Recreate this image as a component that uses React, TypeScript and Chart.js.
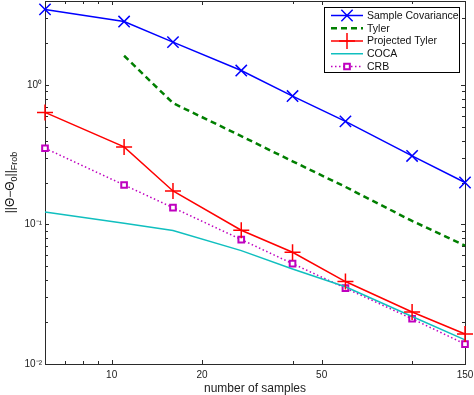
import React, { useEffect, useRef } from "react";
import { Chart, registerables } from "chart.js";

Chart.register(...registerables);

// ---- data ----
const samples = [6, 11, 16, 27, 40, 60, 100, 150];
const sampleCov = [3.48, 2.85, 2.03, 1.27, 0.833, 0.548, 0.31, 0.2];
const tyler = [null, 1.62, 0.742, 0.43, 0.284, 0.186, 0.106, 0.0706];
const projTyler = [0.636, 0.36, 0.174, 0.091, 0.0632, 0.039, 0.0236, 0.0164];
const coca = [0.123, 0.102, 0.0905, 0.065, 0.048, 0.0358, 0.0219, 0.0149];
const crb = [0.352, 0.192, 0.132, 0.078, 0.0524, 0.035, 0.0211, 0.0139];
const seriesNames = ["Sample Covariance", "Tyler", "Projected Tyler", "COCA", "CRB"];
const xTicks = [10, 20, 50, 150];
const xMinorTicks = [7, 8, 9, 40, 100];
const yTicks = [0.01, 0.1, 1];
const xLabel = "number of samples";

const FONT = "'Liberation Sans', Arial, Helvetica, sans-serif";
const AXIS_COLOR = "#2a2a2a";

const SUP: Record<string, string> = { "-": "\u207B", "0": "\u2070", "1": "\u00B9", "2": "\u00B2", "3": "\u00B3" };
const supText = (n: number) => String(n).split("").map((c) => SUP[c] || c).join("");

function drawMarker(ctx: CanvasRenderingContext2D, style: string, x: number, y: number, r: number, color: string, bw: number) {
  ctx.save();
  ctx.strokeStyle = color;
  ctx.lineWidth = bw;
  ctx.setLineDash([]);
  ctx.beginPath();
  if (style === "crossRot") {
    const d = r * Math.SQRT1_2;
    ctx.moveTo(x - d, y - d); ctx.lineTo(x + d, y + d);
    ctx.moveTo(x - d, y + d); ctx.lineTo(x + d, y - d);
    ctx.stroke();
  } else if (style === "cross") {
    ctx.moveTo(x - r, y); ctx.lineTo(x + r, y);
    ctx.moveTo(x, y - r); ctx.lineTo(x, y + r);
    ctx.stroke();
  } else if (style === "rect") {
    const s = r * Math.SQRT1_2;
    ctx.fillStyle = "#fff";
    ctx.rect(x - s, y - s, 2 * s, 2 * s);
    ctx.fill();
    ctx.stroke();
  }
  ctx.restore();
}

const axesPlugin = {
  id: "matlabAxes",
  beforeDatasetsDraw(chart: any) {
    const { ctx, chartArea: a, scales } = chart;
    const xs = scales.x, ys = scales.y;
    ctx.save();
    ctx.strokeStyle = AXIS_COLOR;
    ctx.lineWidth = 1;
    ctx.beginPath();
    const xt = (v: number, len: number) => {
      const px = Math.round(xs.getPixelForValue(v)) + 0.5;
      ctx.moveTo(px, a.bottom); ctx.lineTo(px, a.bottom - len);
      ctx.moveTo(px, a.top); ctx.lineTo(px, a.top + len);
    };
    xTicks.forEach((v) => xt(v, 4));
    xMinorTicks.forEach((v) => xt(v, 3));
    const yt = (v: number, len: number) => {
      const py = Math.round(ys.getPixelForValue(v)) + 0.5;
      ctx.moveTo(a.left, py); ctx.lineTo(a.left + len, py);
      ctx.moveTo(a.right, py); ctx.lineTo(a.right - len, py);
    };
    for (let e = -2; e <= 0; e++) {
      for (let m = 1; m <= 9; m++) {
        const v = m * Math.pow(10, e);
        if (v < ys.min || v > ys.max) continue;
        yt(v, m === 1 ? 4 : 3);
      }
    }
    ctx.stroke();
    ctx.strokeRect(Math.round(a.left) + 0.5, Math.round(a.top) + 0.5, Math.round(a.right - a.left), Math.round(a.bottom - a.top));
    ctx.restore();

    // y title with subscripts
    ctx.save();
    const cy = (a.top + a.bottom) / 2;
    ctx.translate(11, cy);
    ctx.rotate(-Math.PI / 2);
    ctx.fillStyle = "#111";
    ctx.textBaseline = "middle";
    ctx.textAlign = "left";
    const parts: [string, boolean][] = [["||\u0398\u2212\u0398", false], ["0", true], ["||", false], ["Frob", true]];
    const main = `12px ${FONT}`, sub = `9px ${FONT}`;
    let total = 0;
    parts.forEach(([t, s]) => { ctx.font = s ? sub : main; total += ctx.measureText(t).width; });
    let x = -total / 2;
    parts.forEach(([t, s]) => {
      ctx.font = s ? sub : main;
      ctx.fillText(t, x, s ? 4 : 0);
      x += ctx.measureText(t).width;
    });
    ctx.restore();
  },
};

const legendPlugin = {
  id: "matlabLegend",
  afterDraw(chart: any) {
    const { ctx, chartArea: a } = chart;
    const w = 135, h = 65;
    const x0 = Math.round(a.right - 6 - w), y0 = Math.round(a.top + 6);
    ctx.save();
    ctx.fillStyle = "#fff";
    ctx.fillRect(x0, y0, w, h);
    ctx.strokeStyle = "#000";
    ctx.lineWidth = 1;
    ctx.strokeRect(x0 + 0.5, y0 + 0.5, w, h);
    chart.data.datasets.forEach((ds: any, i: number) => {
      const cy = y0 + 8.5 + i * 12.75;
      ctx.save();
      ctx.strokeStyle = ds.borderColor;
      ctx.lineWidth = ds.borderWidth;
      ctx.setLineDash(ds.borderDash || []);
      ctx.beginPath();
      ctx.moveTo(x0 + 7, cy);
      ctx.lineTo(x0 + 39, cy);
      ctx.stroke();
      ctx.restore();
      if (ds.pointRadius > 0) drawMarker(ctx, ds.pointStyle, x0 + 23, cy, ds.pointRadius, ds.borderColor, ds.pointBorderWidth);
      ctx.fillStyle = "#111";
      ctx.font = `10.5px ${FONT}`;
      ctx.textBaseline = "middle";
      ctx.textAlign = "left";
      ctx.fillText(ds.label, x0 + 43, cy + 0.5);
    });
    ctx.restore();
  },
};

export default function App() {
  const ref = useRef<HTMLCanvasElement>(null);
  useEffect(() => {
    const mk = (arr: (number | null)[]) =>
      samples.map((x, i) => ({ x, y: arr[i] })).filter((p) => p.y != null);
    const chart = new Chart(ref.current as HTMLCanvasElement, {
      type: "line",
      data: {
        datasets: [
          { label: seriesNames[0], data: mk(sampleCov), borderColor: "#0000ff", backgroundColor: "#0000ff", borderWidth: 1.5, pointStyle: "crossRot", pointRadius: 8, pointBorderWidth: 1.5, clip: false },
          { label: seriesNames[1], data: mk(tyler), borderColor: "#007f00", backgroundColor: "#007f00", borderWidth: 2.5, borderDash: [6, 4], pointRadius: 0, pointBorderWidth: 0, clip: false },
          { label: seriesNames[2], data: mk(projTyler), borderColor: "#ff0000", backgroundColor: "#ff0000", borderWidth: 1.5, pointStyle: "cross", pointRadius: 8, pointBorderWidth: 1.5, clip: false },
          { label: seriesNames[3], data: mk(coca), borderColor: "#10bfbf", backgroundColor: "#10bfbf", borderWidth: 1.5, pointRadius: 0, pointBorderWidth: 0, clip: false },
          { label: seriesNames[4], data: mk(crb), borderColor: "#bf00bf", backgroundColor: "#ffffff", borderWidth: 1.5, borderDash: [1.5, 2.5], pointStyle: "rect", pointRadius: 4, pointBorderWidth: 2, clip: false },
        ] as any,
      },
      options: {
        animation: false,
        responsive: false,
        layout: { autoPadding: false, padding: { top: 1, right: 9, left: 0, bottom: 0 } },
        plugins: { legend: { display: false }, tooltip: { enabled: false } },
        elements: { line: { tension: 0 } },
        scales: {
          x: {
            type: "logarithmic",
            min: 6,
            max: 150,
            grid: { display: false, drawTicks: false },
            border: { display: false },
            afterBuildTicks: (s: any) => { s.ticks = xTicks.map((v) => ({ value: v })); },
            ticks: { autoSkip: false, maxRotation: 0, padding: 5, color: "#222", font: { family: FONT, size: 10 }, callback: (v: any) => String(v) },
            title: { display: true, text: xLabel, color: "#222", font: { family: FONT, size: 12 }, padding: { top: 0, bottom: -1 } },
            afterFit: (s: any) => { s.height = 31; s.paddingLeft = 0; s.paddingRight = 0; s.paddingTop = 0; s.paddingBottom = 0; },
          },
          y: {
            type: "logarithmic",
            min: 0.01,
            max: 4,
            grid: { display: false, drawTicks: false },
            border: { display: false },
            afterBuildTicks: (s: any) => { s.ticks = yTicks.map((v) => ({ value: v })); },
            ticks: { autoSkip: false, padding: 3, color: "#222", font: { family: FONT, size: 10 }, callback: (v: any) => "10" + supText(Math.round(Math.log10(v))) },
            afterFit: (s: any) => { s.width = 45; s.paddingLeft = 0; s.paddingRight = 0; s.paddingTop = 0; s.paddingBottom = 0; },
          },
        },
      } as any,
      plugins: [axesPlugin, legendPlugin],
    });
    return () => chart.destroy();
  }, []);
  return (
    <div style={{ position: "fixed", left: 0, top: 0, width: 474, height: 395, background: "#fff" }}>
      <canvas ref={ref} width={474} height={395} style={{ display: "block" }} />
    </div>
  );
}
